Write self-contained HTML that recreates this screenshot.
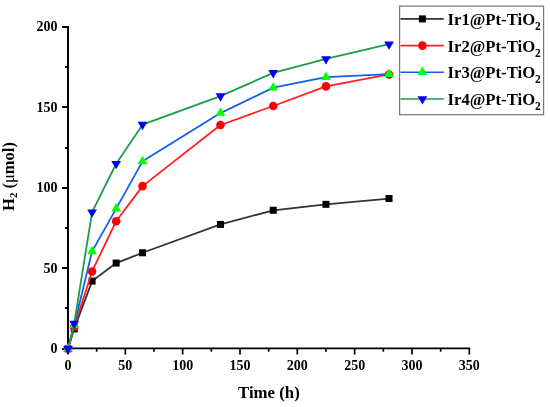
<!DOCTYPE html><html><head><meta charset="utf-8"><style>html,body{margin:0;padding:0;background:#fff;width:550px;height:407px;overflow:hidden}svg{display:block}text{font-family:"Liberation Serif","Times New Roman",serif;font-weight:bold;fill:#000}</style></head><body>
<svg width="550" height="407" viewBox="0 0 550 407">
<rect width="550" height="407" fill="#fff"/>
<g stroke="#000" stroke-width="2.0" fill="none" shape-rendering="crispEdges">
<line x1="68.0" y1="25.80" x2="68.0" y2="349.20"/>
<line x1="68.0" y1="348.70" x2="62.0" y2="348.70"/>
<line x1="68.0" y1="308.46" x2="65.0" y2="308.46"/>
<line x1="68.0" y1="268.23" x2="62.0" y2="268.23"/>
<line x1="68.0" y1="227.99" x2="65.0" y2="227.99"/>
<line x1="68.0" y1="187.75" x2="62.0" y2="187.75"/>
<line x1="68.0" y1="147.51" x2="65.0" y2="147.51"/>
<line x1="68.0" y1="107.28" x2="62.0" y2="107.28"/>
<line x1="68.0" y1="67.04" x2="65.0" y2="67.04"/>
<line x1="68.0" y1="26.80" x2="62.0" y2="26.80"/>
</g>
<g stroke="#000" stroke-width="1.7" fill="none">
<line x1="67.0" y1="348.4" x2="470.20" y2="348.4"/>
<line x1="68.00" y1="348.4" x2="68.00" y2="354.5"/>
<line x1="96.66" y1="348.4" x2="96.66" y2="351.7"/>
<line x1="125.33" y1="348.4" x2="125.33" y2="354.5"/>
<line x1="153.99" y1="348.4" x2="153.99" y2="351.7"/>
<line x1="182.66" y1="348.4" x2="182.66" y2="354.5"/>
<line x1="211.32" y1="348.4" x2="211.32" y2="351.7"/>
<line x1="239.99" y1="348.4" x2="239.99" y2="354.5"/>
<line x1="268.65" y1="348.4" x2="268.65" y2="351.7"/>
<line x1="297.31" y1="348.4" x2="297.31" y2="354.5"/>
<line x1="325.98" y1="348.4" x2="325.98" y2="351.7"/>
<line x1="354.64" y1="348.4" x2="354.64" y2="354.5"/>
<line x1="383.31" y1="348.4" x2="383.31" y2="351.7"/>
<line x1="411.97" y1="348.4" x2="411.97" y2="354.5"/>
<line x1="440.64" y1="348.4" x2="440.64" y2="351.7"/>
<line x1="469.30" y1="348.4" x2="469.30" y2="354.5"/>
</g>
<text x="68.00" y="369.8" font-size="14" text-anchor="middle">0</text>
<text x="125.33" y="369.8" font-size="14" text-anchor="middle">50</text>
<text x="182.66" y="369.8" font-size="14" text-anchor="middle">100</text>
<text x="239.99" y="369.8" font-size="14" text-anchor="middle">150</text>
<text x="297.31" y="369.8" font-size="14" text-anchor="middle">200</text>
<text x="354.64" y="369.8" font-size="14" text-anchor="middle">250</text>
<text x="411.97" y="369.8" font-size="14" text-anchor="middle">300</text>
<text x="469.30" y="369.8" font-size="14" text-anchor="middle">350</text>
<text x="57.5" y="352.70" font-size="14" text-anchor="end">0</text>
<text x="57.5" y="272.73" font-size="14" text-anchor="end">50</text>
<text x="57.5" y="191.75" font-size="14" text-anchor="end">100</text>
<text x="57.5" y="112.28" font-size="14" text-anchor="end">150</text>
<text x="57.5" y="30.80" font-size="14" text-anchor="end">200</text>
<text x="268.9" y="397.8" font-size="16.8" text-anchor="middle">Time (h)</text>
<text transform="translate(13.7,176.5) rotate(-90)" font-size="16.5" text-anchor="middle">H<tspan font-size="11" dy="3.5">2</tspan><tspan dy="-3.5"> (</tspan><tspan font-weight="normal">μ</tspan><tspan>mol)</tspan></text>
<polyline points="68.00,348.70 74.19,328.90 92.08,281.10 116.16,263.07 142.53,252.77 220.49,224.45 273.24,210.28 325.98,204.33 389.04,198.53" fill="none" stroke="#333333" stroke-width="1.8" stroke-linejoin="round"/>
<rect x="64.50" y="345.20" width="7.0" height="7.0" fill="#000000"/>
<rect x="70.69" y="325.40" width="7.0" height="7.0" fill="#000000"/>
<rect x="88.58" y="277.60" width="7.0" height="7.0" fill="#000000"/>
<rect x="112.66" y="259.57" width="7.0" height="7.0" fill="#000000"/>
<rect x="139.03" y="249.27" width="7.0" height="7.0" fill="#000000"/>
<rect x="216.99" y="220.95" width="7.0" height="7.0" fill="#000000"/>
<rect x="269.74" y="206.78" width="7.0" height="7.0" fill="#000000"/>
<rect x="322.48" y="200.83" width="7.0" height="7.0" fill="#000000"/>
<rect x="385.54" y="195.03" width="7.0" height="7.0" fill="#000000"/>
<polyline points="68.00,348.70 74.19,326.81 92.08,271.44 116.16,221.23 142.53,186.14 220.49,124.98 273.24,105.99 325.98,86.35 389.04,74.44" fill="none" stroke="#ff2020" stroke-width="1.8" stroke-linejoin="round"/>
<circle cx="68.00" cy="348.70" r="4.3" fill="#ff0000"/>
<circle cx="74.19" cy="326.81" r="4.3" fill="#ff0000"/>
<circle cx="92.08" cy="271.44" r="4.3" fill="#ff0000"/>
<circle cx="116.16" cy="221.23" r="4.3" fill="#ff0000"/>
<circle cx="142.53" cy="186.14" r="4.3" fill="#ff0000"/>
<circle cx="220.49" cy="124.98" r="4.3" fill="#ff0000"/>
<circle cx="273.24" cy="105.99" r="4.3" fill="#ff0000"/>
<circle cx="325.98" cy="86.35" r="4.3" fill="#ff0000"/>
<circle cx="389.04" cy="74.44" r="4.3" fill="#ff0000"/>
<polyline points="68.00,348.70 74.19,325.20 92.08,251.33 116.16,208.67 142.53,161.35 220.49,113.07 273.24,87.64 325.98,77.18 389.04,74.12" fill="none" stroke="#1262e6" stroke-width="1.8" stroke-linejoin="round"/>
<polygon points="68.00,343.10 72.90,351.50 63.10,351.50" fill="#00ff00"/>
<polygon points="74.19,319.60 79.09,328.00 69.29,328.00" fill="#00ff00"/>
<polygon points="92.08,245.73 96.98,254.13 87.18,254.13" fill="#00ff00"/>
<polygon points="116.16,203.07 121.06,211.47 111.26,211.47" fill="#00ff00"/>
<polygon points="142.53,155.75 147.43,164.15 137.63,164.15" fill="#00ff00"/>
<polygon points="220.49,107.47 225.39,115.87 215.59,115.87" fill="#00ff00"/>
<polygon points="273.24,82.04 278.14,90.44 268.34,90.44" fill="#00ff00"/>
<polygon points="325.98,71.58 330.88,79.98 321.08,79.98" fill="#00ff00"/>
<polygon points="389.04,68.52 393.94,76.92 384.14,76.92" fill="#00ff00"/>
<polyline points="68.00,348.70 74.19,323.59 92.08,212.21 116.16,163.77 142.53,124.66 220.49,96.17 273.24,72.83 325.98,58.99 389.04,44.18" fill="none" stroke="#1c9c4a" stroke-width="1.8" stroke-linejoin="round"/>
<polygon points="63.10,345.90 72.90,345.90 68.00,354.30" fill="#0000ff"/>
<polygon points="69.29,320.79 79.09,320.79 74.19,329.19" fill="#0000ff"/>
<polygon points="87.18,209.41 96.98,209.41 92.08,217.81" fill="#0000ff"/>
<polygon points="111.26,160.97 121.06,160.97 116.16,169.37" fill="#0000ff"/>
<polygon points="137.63,121.86 147.43,121.86 142.53,130.26" fill="#0000ff"/>
<polygon points="215.59,93.37 225.39,93.37 220.49,101.77" fill="#0000ff"/>
<polygon points="268.34,70.03 278.14,70.03 273.24,78.43" fill="#0000ff"/>
<polygon points="321.08,56.19 330.88,56.19 325.98,64.59" fill="#0000ff"/>
<polygon points="384.14,41.38 393.94,41.38 389.04,49.78" fill="#0000ff"/>
<rect x="399.6" y="6.1" width="144.0" height="108.6" fill="#fff" stroke="#777" stroke-width="1.2"/>
<line x1="400.4" y1="18.9" x2="443.8" y2="18.9" stroke="#333333" stroke-width="1.6"/>
<rect x="418.90" y="15.40" width="7.0" height="7.0" fill="#000000"/>
<text transform="translate(447.6,25.00) scale(1,1.05)" font-size="16.7">Ir1@Pt-TiO<tspan font-size="11.5" dy="4.6">2</tspan></text>
<line x1="400.4" y1="45.6" x2="443.8" y2="45.6" stroke="#ff2020" stroke-width="1.6"/>
<circle cx="422.40" cy="45.60" r="4.3" fill="#ff0000"/>
<text transform="translate(447.6,51.70) scale(1,1.05)" font-size="16.7">Ir2@Pt-TiO<tspan font-size="11.5" dy="4.6">2</tspan></text>
<line x1="400.4" y1="72.2" x2="443.8" y2="72.2" stroke="#1262e6" stroke-width="1.6"/>
<polygon points="422.40,66.60 427.30,75.00 417.50,75.00" fill="#00ff00"/>
<text transform="translate(447.6,78.30) scale(1,1.05)" font-size="16.7">Ir3@Pt-TiO<tspan font-size="11.5" dy="4.6">2</tspan></text>
<line x1="400.4" y1="99.0" x2="443.8" y2="99.0" stroke="#1c9c4a" stroke-width="1.6"/>
<polygon points="417.50,96.20 427.30,96.20 422.40,104.60" fill="#0000ff"/>
<text transform="translate(447.6,105.10) scale(1,1.05)" font-size="16.7">Ir4@Pt-TiO<tspan font-size="11.5" dy="4.6">2</tspan></text>
</svg></body></html>
